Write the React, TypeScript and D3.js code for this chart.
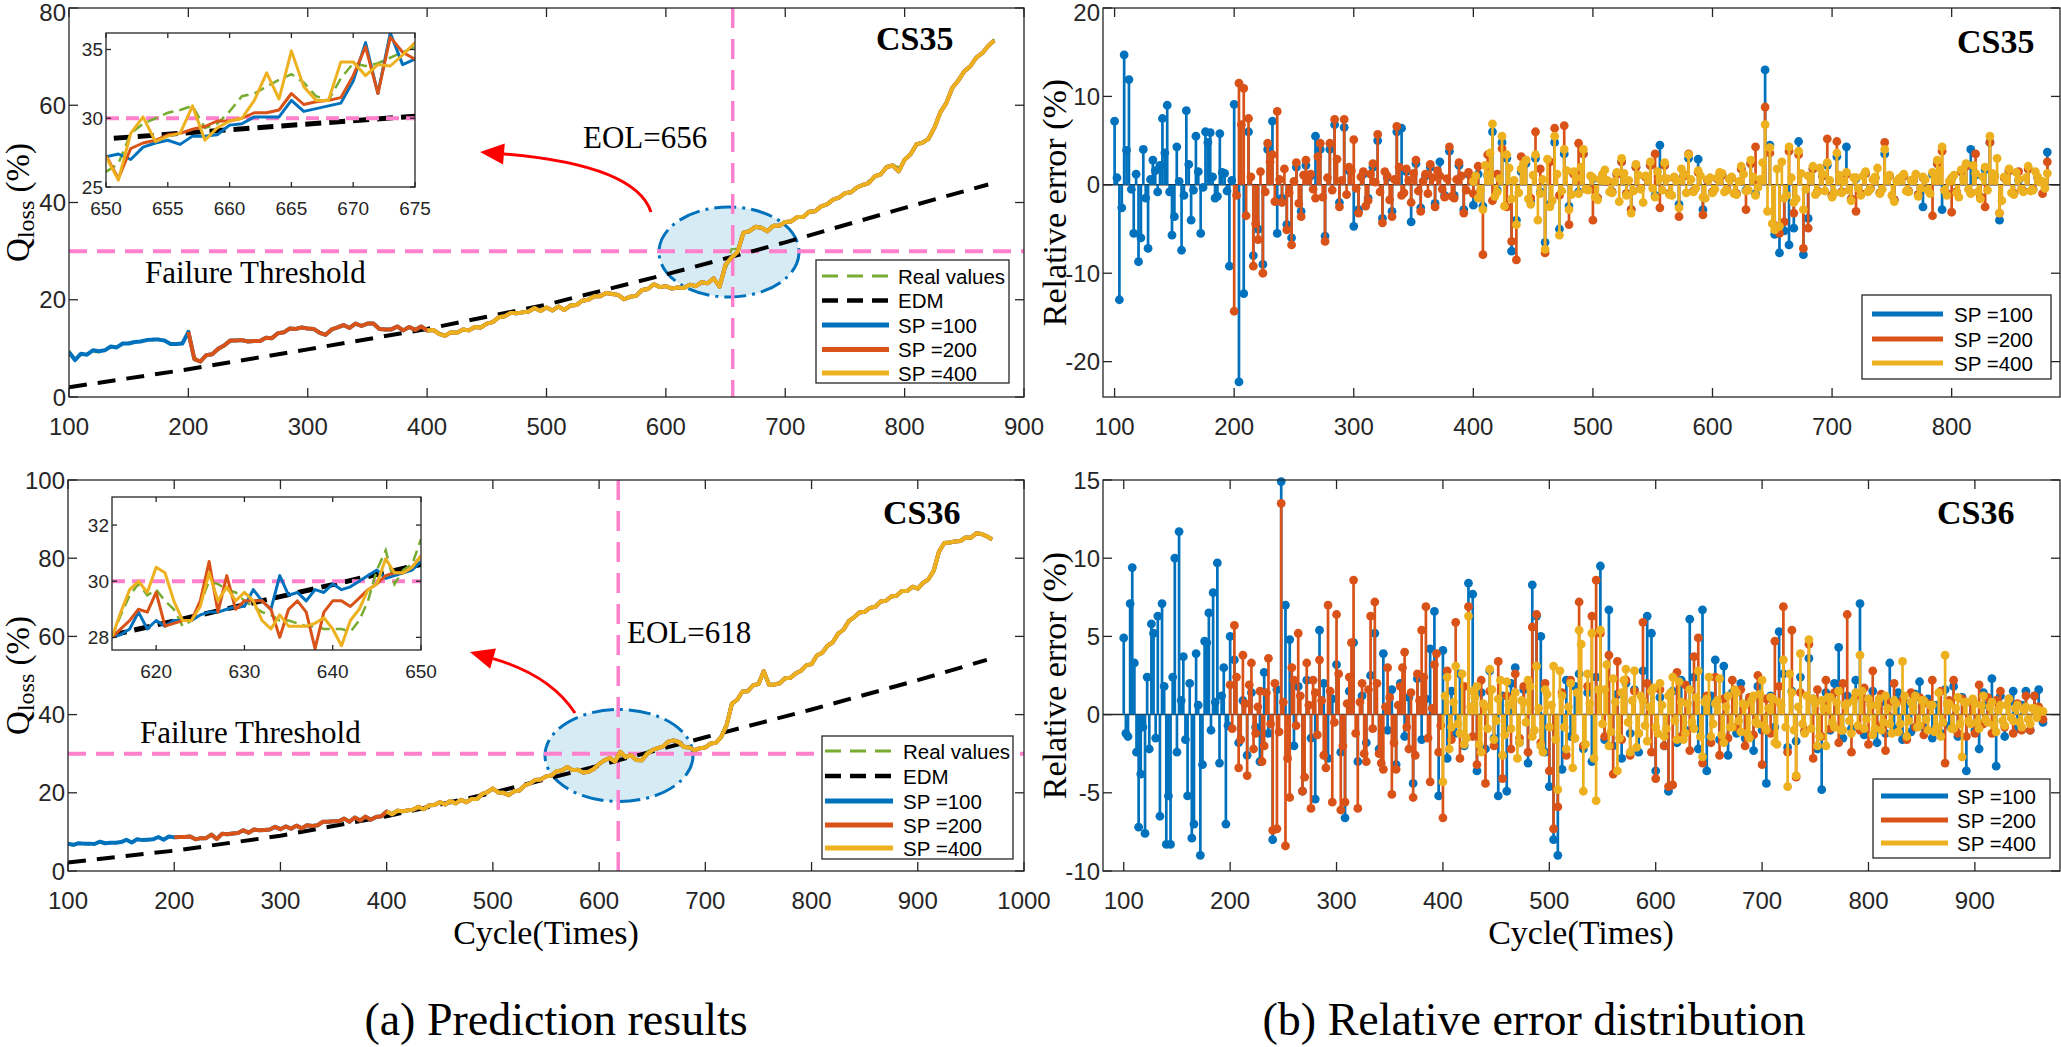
import * as d3 from 'd3';

const BLUE = '#0072bd';
const ORANGE = '#d95319';
const YELLOW = '#edb120';
const GREEN = '#77ac30';
const PINK = '#ff80cc';
const AXIS = '#262626';
const SERIF = '"Liberation Serif", "Times New Roman", Times, serif';
const SANS = '"Liberation Sans", Arial, Helvetica, sans-serif';

// Q_loss (%) curves, one value every 5 cycles starting at cycle 100
const Q_START = 100;
const Q_STEP = 5;

const cs35Real = [
  9.6, 7.9, 8.6, 8.9, 9.3, 9.2, 9.8, 10.1, 10.4, 10.8,
  11.2, 11.0, 11.5, 11.9, 11.6, 12.0, 11.4, 11.1, 10.7, 11.3,
  12.8, 8.2, 7.6, 8.4, 9.0, 9.6, 10.8, 11.4, 11.8, 11.5,
  11.6, 11.3, 11.7, 12.0, 12.3, 12.9, 13.5, 13.9, 14.2, 14.1,
  14.3, 13.8, 13.4, 13.0, 13.6, 14.5, 14.6, 14.4, 14.9, 14.8,
  15.3, 14.9, 14.2, 13.7, 14.1, 14.3, 13.9, 14.2, 14.0, 14.3,
  13.9, 13.6, 13.2, 12.8, 13.1, 13.4, 13.7, 13.9, 14.2, 14.5,
  14.9, 15.6, 16.2, 16.8, 17.1, 17.4, 17.2, 17.8, 18.1, 17.9,
  18.2, 18.0, 18.4, 18.1, 18.6, 19.1, 19.6, 20.2, 20.5, 20.9,
  21.2, 21.4, 20.8, 20.3, 20.4, 21.0, 21.8, 22.4, 23.0, 22.8,
  22.6, 22.5, 22.3, 22.6, 22.9, 23.0, 23.4, 23.6, 24.2, 23.0,
  26.1, 30.4, 30.5, 33.2, 34.0, 35.2, 34.6, 34.3, 35.0, 35.4,
  35.8, 36.3, 36.8, 37.2, 37.9, 38.4, 39.0, 39.8, 40.4, 41.2,
  41.7, 42.3, 42.9, 43.8, 44.5, 45.2, 46.0, 47.1, 47.8, 47.2,
  48.6, 50.1, 51.8, 52.5, 52.9, 55.6, 58.4, 60.7, 63.4, 65.3,
  66.8, 68.2, 69.6, 70.9, 72.0, 73.6,
];
const cs35Pred = [
  9.2, 7.6, 8.9, 8.7, 9.6, 9.4, 9.6, 10.4, 10.2, 11.0,
  11.0, 11.3, 11.4, 11.7, 11.8, 11.8, 11.6, 10.9, 10.9, 11.0,
  13.4, 7.8, 7.3, 8.6, 8.8, 9.9, 10.6, 11.6, 11.6, 11.7,
  11.4, 11.5, 11.5, 12.2, 12.1, 13.1, 13.3, 14.1, 14.0, 14.3,
  14.1, 14.0, 13.2, 12.8, 13.9, 14.3, 14.8, 14.2, 15.1, 14.6,
  15.1, 15.1, 14.0, 13.9, 13.9, 14.5, 13.7, 14.4, 13.8, 14.5,
  13.7, 13.8, 13.0, 12.6, 13.3, 13.2, 13.9, 13.7, 14.4, 14.3,
  15.1, 15.4, 16.4, 16.6, 17.3, 17.2, 17.4, 17.6, 18.3, 17.7,
  18.4, 17.8, 18.6, 17.9, 18.8, 18.9, 19.8, 20.0, 20.7, 20.7,
  21.4, 21.2, 21.0, 20.1, 20.6, 20.8, 22.0, 22.2, 23.2, 22.6,
  22.8, 22.3, 22.5, 22.4, 23.1, 22.8, 23.6, 23.4, 24.4, 22.7,
  27.2, 28.7, 29.8, 33.8, 34.1, 35.0, 34.8, 34.1, 35.2, 35.2,
  36.0, 36.1, 37.0, 37.0, 38.1, 38.2, 39.2, 39.6, 40.6, 41.0,
  41.9, 42.1, 43.1, 43.6, 44.0, 45.4, 45.8, 47.3, 47.6, 46.4,
  48.8, 49.9, 52.0, 52.3, 53.1, 55.4, 58.6, 60.5, 63.6, 65.1,
  67.0, 68.0, 69.8, 70.7, 72.2, 73.3,
];
const cs36Real = [
  6.8, 6.5, 6.9, 7.2, 6.8, 7.1, 7.3, 6.9, 7.4, 7.0,
  7.6, 7.8, 7.5, 7.9, 8.1, 7.8, 8.3, 8.5, 8.2, 8.6,
  8.8, 8.5, 8.9, 8.6, 8.3, 8.2, 8.6, 9.1, 8.4, 9.3,
  9.6, 9.4, 9.9, 10.2, 10.0, 10.4, 10.6, 10.3, 10.8, 11.1,
  10.9, 11.2, 11.0, 11.4, 11.1, 11.5, 11.3, 11.9, 12.4, 12.8,
  12.5, 12.9, 13.2, 12.8, 13.5, 13.1, 13.7, 13.3, 13.6, 14.2,
  15.0, 14.7, 15.2, 15.5, 15.3, 15.9, 16.2, 16.0, 16.6, 17.1,
  17.4, 17.2, 17.7, 17.5, 18.0, 17.8, 18.2, 18.6, 19.5, 20.4,
  20.9, 20.3, 19.8, 19.6, 20.2, 20.8, 21.7, 22.6, 23.1, 23.6,
  24.0, 24.6, 25.3, 25.9, 26.4, 26.0, 25.7, 25.4, 25.2, 26.3,
  27.2, 28.5, 28.7, 28.0, 29.7, 29.2, 29.3, 28.6, 28.3, 30.4,
  31.5, 31.2, 32.0, 32.9, 33.6, 32.8, 31.9, 31.4, 31.1, 31.2,
  31.8, 32.4, 33.0, 34.0, 37.6, 42.5, 44.1, 45.6, 46.3, 47.2,
  48.0, 50.8, 47.9, 47.4, 48.3, 49.0, 49.6, 50.2, 51.4, 52.3,
  53.1, 54.8, 56.0, 57.3, 58.7, 60.4, 61.9, 63.6, 65.1, 65.8,
  66.5, 67.0, 67.8, 68.6, 69.3, 69.9, 70.6, 71.3, 71.8, 72.4,
  72.6, 73.4, 74.8, 76.5, 82.0, 83.6, 84.2, 84.0, 84.6, 85.0,
  85.4, 86.1, 86.4, 85.8, 85.0,
];
const cs36Pred = [
  7.0, 6.7, 7.1, 7.0, 7.0, 6.9, 7.5, 7.1, 7.2, 7.2,
  7.4, 8.0, 7.3, 8.1, 7.9, 8.0, 8.1, 8.7, 8.0, 8.8,
  8.6, 8.7, 8.7, 8.8, 8.1, 8.4, 8.4, 9.3, 8.2, 9.5,
  9.4, 9.6, 9.7, 10.4, 9.8, 10.6, 10.4, 10.5, 10.6, 11.3,
  10.7, 11.4, 10.8, 11.6, 10.9, 11.7, 11.5, 11.7, 12.6, 12.6,
  12.7, 12.7, 13.4, 12.6, 13.7, 12.9, 13.9, 13.1, 13.8, 14.0,
  15.2, 14.5, 15.4, 15.3, 15.5, 15.7, 16.4, 15.8, 16.8, 16.9,
  17.6, 17.0, 17.9, 17.3, 18.2, 17.6, 18.4, 18.4, 19.7, 20.2,
  21.1, 20.1, 20.0, 19.4, 20.4, 20.6, 21.9, 22.4, 23.3, 23.4,
  24.2, 24.4, 25.5, 25.7, 26.6, 25.8, 25.9, 25.2, 25.4, 26.1,
  27.4, 28.3, 28.9, 28.0, 30.5, 29.1, 29.6, 28.4, 28.3, 29.9,
  30.9, 31.4, 31.8, 33.1, 33.4, 33.0, 31.7, 31.6, 30.9, 31.4,
  31.6, 32.6, 32.8, 34.3, 37.3, 42.8, 43.8, 45.9, 46.0, 47.5,
  47.8, 51.1, 47.6, 47.7, 48.0, 49.3, 49.4, 50.5, 51.2, 52.6,
  52.9, 55.1, 55.8, 57.6, 58.5, 60.7, 61.7, 63.9, 64.9, 66.1,
  66.3, 67.3, 67.6, 68.9, 69.1, 70.2, 70.4, 71.6, 71.6, 72.7,
  72.2, 73.7, 74.6, 76.8, 81.7, 83.9, 84.0, 84.3, 84.4, 85.3,
  85.2, 86.4, 86.2, 85.6, 84.8,
];

// empirical degradation model knots
const cs35EdmCycles = [100, 200, 300, 400, 500, 600, 700, 800, 870];
const cs35Edm = [2.0, 5.7, 9.8, 14.0, 19.0, 25.2, 31.8, 38.9, 43.7];
const cs36EdmCycles = [100, 200, 300, 400, 500, 600, 700, 800, 900, 965];
const cs36Edm = [2.2, 5.2, 9.0, 14.0, 20.0, 27.0, 34.2, 41.3, 48.8, 54.0];

// zoomed-in windows (one value per cycle)
const cs35ZoomCycles = d3.range(650, 676);
const cs35ZoomReal = [26.1, 26.7, 28.9, 29.6, 30.0, 30.4, 30.6, 30.9, 29.3, 29.6, 30.5, 31.6, 31.8, 32.3, 32.8, 33.2, 32.6, 31.6, 31.3, 32.9, 34.0, 33.8, 34.0, 34.4, 34.8, 35.2];
const cs35ZoomSp100 = [27.2, 27.4, 27.0, 27.9, 28.2, 28.4, 28.1, 28.7, 28.7, 28.8, 29.5, 29.6, 30.1, 30.1, 30.1, 31.3, 30.5, 30.7, 30.9, 31.1, 32.7, 35.5, 31.8, 36.2, 33.9, 34.3];
const cs35ZoomSp200 = [27.3, 25.6, 27.8, 28.2, 28.4, 28.8, 28.9, 29.2, 29.4, 29.8, 29.8, 30.0, 30.4, 30.4, 30.6, 31.8, 31.0, 31.2, 31.3, 31.5, 33.1, 35.2, 31.8, 35.9, 34.8, 34.3];
const cs35ZoomSp400 = [27.2, 25.5, 28.9, 30.1, 28.3, 28.7, 28.9, 30.9, 28.4, 29.3, 29.8, 30.0, 31.3, 33.3, 31.4, 34.9, 32.3, 31.3, 31.3, 34.1, 34.1, 33.1, 33.9, 33.8, 34.6, 35.5];

const cs36ZoomCycles = d3.range(615, 651);
const cs36ZoomReal = [28.0, 28.8, 29.5, 29.9, 29.5, 29.7, 29.3, 29.0, 28.4, 28.6, 29.2, 30.0, 29.9, 29.7, 29.6, 29.3, 29.1, 28.9, 28.8, 28.6, 28.6, 28.5, 28.4, 28.4, 28.3, 28.3, 28.3, 28.2, 28.6, 29.3, 30.4, 31.1, 29.9, 30.4, 30.6, 31.5];
const cs36ZoomSp100 = [28.0, 28.1, 28.3, 28.9, 28.3, 28.6, 28.4, 28.6, 28.6, 28.6, 28.8, 28.9, 28.9, 29.0, 29.1, 29.1, 29.7, 29.3, 29.0, 30.2, 29.5, 29.6, 29.3, 29.7, 29.6, 29.9, 29.7, 29.8, 30.0, 30.2, 30.4, 30.1, 30.2, 30.3, 30.4, 30.7];
const cs36ZoomSp200 = [28.0, 28.3, 28.6, 29.0, 28.9, 29.6, 28.4, 28.5, 28.6, 28.6, 29.3, 30.7, 28.9, 30.2, 29.0, 29.3, 29.3, 29.3, 29.0, 28.0, 29.0, 29.3, 28.9, 27.6, 28.9, 29.3, 29.3, 29.1, 29.4, 29.7, 29.9, 30.2, 30.3, 30.3, 30.5, 30.9];
const cs36ZoomSp400 = [28.0, 28.9, 29.7, 30.0, 29.6, 30.5, 30.3, 29.3, 28.6, 28.6, 29.1, 30.3, 29.3, 29.8, 29.3, 29.6, 29.3, 28.6, 28.3, 28.8, 28.4, 28.4, 28.4, 28.5, 28.7, 28.3, 27.7, 28.6, 29.0, 29.7, 29.9, 30.8, 30.3, 30.3, 30.5, 30.9];

// relative error (%), one stem every 4 cycles; the "Mid" lists sit 2 cycles after each stem
const ERR_STEP = 4;
const spLabels = ['SP =100', 'SP =200', 'SP =400'];
const spColors = [BLUE, ORANGE, YELLOW];
const spStarts = [100, 200, 400];

const cs35Err100 = [
  7.2, -13.0, 14.7, 11.9, -5.5, -8.7, 4.0, -7.2, 2.8, -0.8,
  7.5, 9.0, -5.7, 4.3, -7.4, 8.4, -4.0, 5.5, -5.5, 6.0,
  5.9, -1.5, 5.8, 1.3, -9.2, 9.1, -22.3, -12.3, 6.0, -8.0,
  -5.0, -9.0, 4.0, 7.2, -5.5, -1.5, -4.5, -6.0, 2.0, -3.0,
  2.2, 1.0, 5.5, 4.0, -5.8, 4.0, 6.8, -2.0, 6.5, 1.6,
  -4.7, -2.8, 1.2, -1.5, 2.0, 5.0, -3.8, 0.8, -3.0, 6.0,
  6.4, 1.5, -4.2, 2.4, -2.6, 1.0, 2.0, -2.1, 2.6, -1.2,
  3.8, -1.2, 2.2, -2.8, 1.2, -2.3, 1.2, -2.4, 1.0, 6.0,
  -0.6, 4.8, 3.0, -7.5, -4.0, 1.5, 2.4, -1.9, 3.0, -0.8,
  -6.5, -2.2, 4.8, -5.0, 3.5, -2.4, 1.3, -0.8, 3.5, -0.5,
  0.7, -1.5, 1.0, 0.4, -0.8, 1.2, 2.6, -1.0, -2.8, 2.0,
  -0.4, 0.9, 2.2, -1.2, 4.5, 2.2, -1.0, 0.8, -2.2, 1.0,
  3.0, -0.7, 2.9, -2.8, 0.5, -0.8, 0.7, 1.1, -0.5, 0.8,
  -1.0, 1.8, -0.6, 2.4, -1.0, 0.5, 13.0, 4.5, -5.6, -7.7,
  -5.2, -6.8, -4.9, 4.9, -7.9, -3.8, 1.8, -0.7, 1.0, 2.2,
  -1.2, 3.2, -0.8, 4.3, -1.6, 0.7, -1.0, 1.3, -0.4, 0.8,
  -0.9, 3.5, 1.0, -1.7, 0.6, 1.0, -0.7, 0.5, -1.1, -2.5,
  -0.5, 1.2, 2.4, -2.8, -1.0, 0.7, -0.8, 1.5, 2.1, 4.0,
  1.1, -1.4, 1.7, 4.8, 1.0, -4.0, 0.8, 1.6, -1.0, 0.5,
  -0.7, 1.8, -0.5, 0.8, 0.3, 3.7,
];
const cs35Err100Mid = [
  0.8, -2.6, 3.9, -0.5, 1.2, -6.0, -1.5, 0.6, 1.6, 2.2,
  3.6, -0.8, -3.6, 0.4, -1.2, 2.3, -0.6, 1.5, -0.3, 4.8,
  0.9, -1.3, 1.4, -0.7, 0.5,
];
const cs35Err200 = [
  -14.3, 11.5, 10.9, 7.5, -9.2, -6.2, -10.0, 4.7, 3.4, 8.3,
  -2.0, -5.1, -6.8, 2.5, -3.6, 2.8, 1.2, -1.5, 4.7, -6.4,
  4.7, 7.4, -2.5, 7.4, 2.0, 5.1, -3.2, 1.5, -1.8, 2.4,
  5.7, -4.3, 1.0, -3.6, 6.6, -1.2, 1.8, -2.0, 2.8, -3.0,
  1.2, 2.3, -2.5, 1.0, -1.4, 4.3, -1.5, 2.5, -3.2, 1.4,
  -1.0, 2.1, -7.9, 3.4, -1.8, 1.2, 4.1, -2.5, -6.4, -8.5,
  3.2, 2.8, -1.5, 6.0, 1.8, -7.7, 2.6, 6.4, -1.2, 6.7,
  -4.5, 1.2, 4.7, 3.5, -0.5, -4.0, -1.5, 1.0, 0.4, -0.8,
  1.2, 2.6, -1.0, -2.8, 2.0, -0.4, 0.9, 2.2, 3.5, -2.6,
  2.2, -1.0, 0.8, -3.6, 1.0, 3.5, -0.7, 1.4, -3.4, 0.5,
  -0.8, 0.7, 1.1, -0.5, 0.8, -1.0, 1.8, -2.8, 2.4, 4.3,
  0.5, 8.8, 3.6, -4.6, -5.5, -4.2, 3.8, -3.2, 3.4, -7.2,
  -4.9, 1.8, -0.7, 1.0, 5.2, -1.2, 4.9, -0.8, 1.2, -1.6,
  -3.0, -1.0, 1.3, -0.4, 0.8, -0.9, 4.8, 1.0, -1.7, 0.6,
  1.0, -0.7, 0.5, -1.1, 0.8, -0.5, -3.5, 2.4, 3.8, -1.0,
  -3.1, -0.8, 1.5, 2.1, -0.9, 3.5, -1.4, -2.5, 4.8, 1.0,
  -3.2, 0.8, 1.6, -1.0, 1.5, -0.7, 1.8, -0.5, 0.8, -1.0,
  2.6,
];
const cs35Err200Mid = [
  -1.2, 6.8, -3.5, 0.9, -4.4, 1.5, -0.8, 2.6, -1.9, 0.6,
  1.8, -0.9, 0.4, -2.1, 1.1, 0.7, -0.5, 3.2, -1.4, 0.8,
  -0.6, 2.9, 0.5, -1.1, 1.6, -0.4, 0.9, -2.4, 1.2, 0.3,
  -0.8, 1.5, -1.7, 0.6, 2.0, -0.9, 0.5, 1.3, -0.7, 0.4,
  -1.0, 0.8, 1.6, -0.5, 0.7, -1.3, 0.6, 1.0, -0.6, 0.9,
];
const cs35Err400 = [
  0.4, -1.5, -2.8, 1.2, 6.9, -0.8, 5.5, 3.4, -1.6, -4.5,
  1.8, 2.8, -2.2, 3.4, -1.0, -7.3, -2.5, 5.5, -5.7, 4.0,
  -2.8, 1.5, -1.0, 4.0, -0.6, 0.8, -1.7, 1.2, 0.5, -0.9,
  1.4, 3.0, -1.2, -3.2, 2.3, -0.5, 1.0, 2.6, -1.4, 0.7,
  2.5, -1.1, 0.9, -2.6, 1.2, 3.4, -0.8, 1.6, -1.4, 0.6,
  -0.9, 0.8, 1.3, -0.6, 0.9, -1.1, 2.1, -0.7, 2.8, -1.2,
  0.6, 6.8, 4.2, -5.1, -4.7, -1.5, 4.3, -2.0, 3.8, -2.8,
  1.0, 2.1, -0.8, 1.2, 2.5, -1.4, 3.6, -0.9, 1.4, -1.8,
  0.8, -1.2, 1.5, -0.5, 0.9, -1.0, 4.0, 1.1, -1.9, 0.7,
  1.2, -0.8, 0.6, -1.3, 0.9, -0.6, 1.4, 2.8, 4.3, -1.2,
  0.8, -0.9, 1.7, 2.4, -1.0, 1.3, -1.6, 2.0, 5.5, 1.1,
  -3.2, 0.9, 1.8, -1.1, 0.6, -0.8, 2.1, -0.6, 0.9, 0.4,
  1.3,
];
const cs35Err400Mid = [
  1.0, -0.6, 2.2, 3.6, -1.3, 0.7, -2.4, 1.9, 0.5, -0.9,
  2.4, -1.6, 1.1, -4.0, 0.6, 2.9, -1.8, 1.2, -0.7, 1.6,
  -1.1, 0.8, 2.0, -0.5, 1.0, -1.4, 0.6, 1.7, -0.8, 0.4,
  -1.9, 1.3, 0.5, -0.7, 1.1, -2.0, 0.9, -0.4, 1.5, -0.6,
  0.7, -1.2, 0.5, 1.8, -0.9, 0.6, -0.4, 1.0, -1.5, 0.8,
  -0.5, 1.4, -0.8, 0.6, -1.0, 0.4, 1.2, -0.6, 0.9, -0.3,
  2.5, -3.0, -4.4, 1.8, 2.6, -1.2, 0.8, -1.6, 1.3, -0.5,
  0.9, -1.1, 1.9, -0.7, 0.5, -0.9, 1.1, 0.4, -0.6, 0.8,
  -0.4, 1.0, -0.8, 0.6, 1.9, -0.5, 0.7, -1.2, 0.4, 0.9,
  -0.7, 0.5, 1.2, -0.4, 0.6, -1.0, 0.8, 1.6, -0.6, 0.4,
  1.1, -1.4, 0.7, -0.5, 2.2, -0.8, 0.9, -0.6, 1.3, 3.0,
  -1.8, 0.6, -0.9, 1.4, -0.5, 0.8, -0.7, 1.5, 0.3, -0.4,
];

const cs36Err100 = [
  4.9, -1.4, 9.4, -2.4, -3.8, -7.6, -2.2, 5.2, 6.3, 7.1,
  -8.3, -8.3, 10.0, 11.7, 3.7, -5.2, -7.9, 3.9, -9.0, 4.7,
  6.5, 7.8, 9.7, 1.2, -7.0, 5.0, 3.5, -1.8, 0.9, -2.6,
  1.4, -0.8, -3.0, 2.7, -1.2, -8.0, 1.6, 14.9, 7.0, 4.8,
  -2.0, 1.8, -4.9, 2.2, -1.5, -5.4, 5.4, 2.0, -2.8, 1.0,
  3.2, -2.4, -6.6, 1.5, 4.6, -3.0, 1.2, -1.8, 2.5, 5.2,
  -2.2, 3.9, -1.0, 1.6, -3.2, 2.0, -1.4, 1.1, -4.4, 2.3,
  -1.6, 1.0, 4.2, 6.6, -5.2, 4.1, -2.8, 1.5, -1.2, 2.6,
  -2.0, 8.4, 7.7, -3.6, 1.4, -2.2, 2.8, -1.5, -5.2, 1.2,
  -4.9, 2.0, 3.0, -1.8, 1.6, -3.1, 8.3, 6.3, 5.0, -2.4,
  -4.6, -8.0, -9.0, -3.5, 2.2, -1.4, 1.8, 2.6, -2.2, 1.4,
  -3.0, 2.4, 9.5, -1.6, 6.7, -2.0, 1.3, -2.8, 2.0, -1.2,
  1.6, -2.4, 2.8, 6.3, 5.2, -3.6, 1.1, -2.0, -4.9, 1.5,
  -1.8, 2.2, -1.0, 6.1, 2.4, -2.2, 6.7, -3.6, 1.2, 3.5,
  -1.6, 3.1, -2.6, 1.4, -1.2, 2.0, -1.5, 0.9, -2.3, 1.8,
  -1.0, -4.4, 1.2, -0.8, 5.3, 2.6, -2.1, 1.5, -1.7, 2.4,
  -1.1, 3.6, 1.0, -2.2, -4.8, 1.4, -1.0, 2.0, 4.3, -1.5,
  1.2, -0.9, 2.2, 7.1, -1.3, 1.0, 1.5, -1.8, 0.8, -1.2,
  3.3, -0.9, 1.4, -1.6, 0.7, -1.1, 1.3, 2.1, -0.8, 1.0,
  -1.5, 0.6, -1.2, 1.6, -0.7, 1.8, -1.4, 1.1, -3.6, 0.8,
  -1.0, -2.2, 1.4, 0.6, 2.3, -3.3, 1.2, -1.4, 0.8, 1.5,
  -0.9, 0.6, 1.5, -1.0, 1.2, 1.6, -0.5,
];
const cs36Err100Mid = [
  -1.2, 7.1, 3.3, -7.2, -0.8, 2.4, 5.8, -1.5, -6.5, 1.8,
  -5.2, 2.4, -2.4, 0.9, -1.6, 2.0, -7.0, 0.6, -3.2, 4.6,
  -1.0, 0.8, -3.1, 3.0, -0.7,
];
const cs36Err200 = [
  1.9, 5.7, -3.4, 3.8, -3.9, 3.3, -1.2, 1.5, -2.0, 3.6,
  -7.4, -7.3, 13.5, -8.4, -5.3, 2.2, 5.2, -4.9, 3.3, -6.0,
  1.4, 3.5, -2.6, 7.0, -5.6, 6.4, -6.1, -5.6, 2.4, 8.6,
  -6.0, 2.0, -3.0, 6.3, 7.2, -2.5, -3.5, 3.0, -5.1, -3.5,
  1.8, 4.0, -2.2, -5.3, 2.6, 5.4, 6.9, -4.3, 3.2, -2.4,
  -6.6, 2.8, -1.6, 5.9, -2.8, 1.8, 6.9, -1.4, -3.2, 2.2,
  -4.4, 1.5, -2.0, 3.4, -4.1, 1.2, -2.2, 2.6, -1.5, 1.8,
  -2.4, 5.6, 6.4, -1.8, 2.0, -3.6, -7.3, -5.9, 1.4, -2.6,
  2.2, -1.5, 7.2, -2.0, 1.8, 6.3, 8.6, 5.2, -1.4, 3.8,
  -3.8, 3.4, -1.6, 2.2, -2.6, 1.5, -1.2, 5.9, 2.0, -2.4,
  -4.1, 1.6, -2.0, -4.6, -4.5, 2.7, -1.4, 1.9, -2.3, 3.7,
  4.9, -3.1, 1.2, -1.8, 2.4, -2.6, 1.0, -1.5, 2.2, -0.8,
  1.6, -2.0, 1.1, -1.3, 2.5, -3.2, 1.0, -1.2, 4.7, 1.8,
  6.9, -2.4, 5.4, -4.0, 1.4, -1.0, 4.5, -2.8, 1.6, -1.4,
  2.2, -0.9, 1.4, -1.8, 2.0, 6.4, -2.4, 1.2, -1.0, 1.7,
  -1.9, 2.8, -0.7, 1.3, -2.3, 0.8, 2.0, -1.1, 0.9, -1.6,
  1.4, -0.8, 1.1, -1.3, 0.7, 2.2, -1.0, 1.5, -3.1, 0.9,
  2.2, -1.2, 1.0, -1.4, 0.8, -1.2, 1.9, -0.6, 1.1, -1.2,
  0.9, 1.5, -0.8, 1.0, -1.2, 0.7, -1.0, 1.2, -1.0, 1.2,
  0.5, -0.3,
];
const cs36Err200Mid = [
  -0.9, 2.4, -1.6, 0.7, 1.9, -2.2, 0.5, -3.0, 1.4, -0.6,
  2.0, -1.1, 0.8, -2.8, 3.0, -0.7, 1.2, -4.0, 0.6, 2.2,
  -1.3, 0.9, -3.4, 1.5, -0.5, 2.6, -2.0, 0.7, 4.6, -1.2,
  0.8, -2.5, 1.6, -0.9, 2.0, -3.1, 0.5, 1.1, -1.8, 0.6,
  3.0, -0.8, 1.4, -2.6, 0.9, 2.4, -1.5, 0.4, 3.9, -0.7,
];
const cs36Err400 = [
  -4.3, 2.4, -0.8, 3.1, -1.2, -1.9, 6.3, 1.5, 1.8, -2.4,
  0.5, 2.9, -1.6, 1.0, -2.6, 2.1, -0.9, 1.4, -1.8, 0.8,
  2.2, -1.4, 3.1, -2.0, 1.6, -0.8, 3.1, -4.8, 1.2, -2.2,
  2.0, -1.5, 5.4, -4.9, 2.6, 5.2, -5.5, 5.4, 1.6, -2.0,
  2.3, -3.6, 1.4, 2.9, -2.4, 2.8, -1.2, 0.9, -1.7, 1.5,
  -0.8, 2.0, -1.4, 1.2, 2.4, -1.6, 0.8, -1.2, 1.6, -0.9,
  2.8, -2.7, 1.0, -1.4, 0.7, 2.3, -1.8, 1.2, -0.8, 1.4,
  -1.1, 0.6, -1.5, 1.2, -0.6, 2.2, -1.0, 1.1, -1.8, 0.8,
  3.5, -4.6, 1.4, -3.9, 3.9, -1.2, 4.8, 1.0, -2.0, 0.9,
  -2.0, 1.1, -0.8, 1.5, -1.0, 0.7, -1.2, 1.4, 3.8, -0.9,
  1.0, -1.3, 0.6, -1.0, 1.2, -0.6, 0.9, -1.1, 3.4, -1.4,
  0.8, 1.2, -0.7, 0.9, -1.0, 0.6, -0.8, -1.4, 3.8, 0.7,
  -0.9, 1.1, -2.7, 0.8, -0.6, 0.7, -0.9, 1.2, -0.5, 0.8,
  -1.1, 0.6, -0.7, 1.0, -0.4, 0.6, -0.8, 0.5, -0.6, 0.4,
  0.3, 0.2,
];
const cs36Err400Mid = [
  1.2, -2.2, 0.8, -0.6, 2.6, -1.5, 0.5, 1.1, -1.9, 0.7,
  -0.9, 1.6, -0.4, 2.2, -1.3, 0.6, 1.0, -2.8, 0.9, -0.5,
  1.8, -1.0, 0.4, -2.4, 1.3, 0.6, -1.6, 2.8, -0.8, 0.5,
  -3.4, 1.4, 4.5, -1.9, 0.7, -2.8, 1.6, -0.6, 3.2, -1.1,
  0.8, -1.5, 2.2, -0.5, 0.9, -2.1, 1.2, -0.7, 0.5, 1.7,
  -1.2, 0.6, -0.9, 1.4, -0.4, 2.1, -1.6, 0.7, -0.5, 1.1,
  -1.4, 0.8, 2.4, -0.6, 0.9, -1.3, 0.5, -0.8, 1.6, -0.4,
  0.7, -1.2, 0.9, -0.5, 1.3, -0.7, 0.4, 1.0, -1.9, 0.6,
  -0.8, 2.6, -1.0, 0.5, -0.6, 1.2, -0.9, 0.7, -1.4, 0.4,
  1.1, -0.5, 0.8, -1.0, 0.6, -0.4, 0.9, -0.7, 1.5, -0.3,
  0.6, -0.9, 1.0, -0.5, 0.4, -1.2, 0.7, -0.6, 1.2, -0.4,
  0.5, -0.8, 0.9, -0.3, 0.6, -1.1, 1.4, -0.5, 0.7, -0.9,
  0.4, -0.6, 0.8, -0.4, 1.0, -0.5, 0.6, -0.3, 0.5, -0.7,
  0.3, -0.4, 0.6, -0.2, 0.4, -0.5, 0.3, -0.3, 0.4, -0.2,
  0.2,
];

type Lin = d3.ScaleLinear<number, number>;
type Pt = [number, number];
type StemSeries = { start: number; values: number[]; color: string };

function Frame({ x, y, xTicks, yTicks, tick = 9, font = 24, xDy = 37.5 }: {
  x: Lin; y: Lin; xTicks: number[]; yTicks: number[]; tick?: number; font?: number; xDy?: number;
}) {
  const [l, r] = x.range();
  const [b, t] = y.range();
  return (
    <g stroke={AXIS} strokeWidth={1.3}>
      <rect x={l} y={t} width={r - l} height={b - t} fill="none" />
      {xTicks.map(v => (
        <g key={'x' + v}>
          <line x1={x(v)} x2={x(v)} y1={b} y2={b - tick} />
          <line x1={x(v)} x2={x(v)} y1={t} y2={t + tick} />
          <text x={x(v)} y={b + xDy} stroke="none" fill={AXIS} fontFamily={SANS} fontSize={font} textAnchor="middle">{v}</text>
        </g>
      ))}
      {yTicks.map(v => (
        <g key={'y' + v}>
          <line x1={l} x2={l + tick} y1={y(v)} y2={y(v)} />
          <line x1={r} x2={r - tick} y1={y(v)} y2={y(v)} />
          <text x={l - 3} y={Math.max(y(v), 12)} stroke="none" fill={AXIS} fontFamily={SANS} fontSize={font} textAnchor="end" dominantBaseline="central">{v}</text>
        </g>
      ))}
    </g>
  );
}

type Row = { label: string; color: string; width: number; dash?: string };

function Legend({ box, rows, rowY, lineX, textX }: {
  box: number[]; rows: Row[]; rowY: number[]; lineX: number[]; textX: number;
}) {
  return (
    <g>
      <rect x={box[0]} y={box[1]} width={box[2] - box[0]} height={box[3] - box[1]} fill="#fff" stroke={AXIS} strokeWidth={1.3} />
      {rows.map((row, i) => (
        <g key={row.label}>
          <line x1={lineX[0]} x2={lineX[1]} y1={rowY[i]} y2={rowY[i]} stroke={row.color} strokeWidth={row.width} strokeDasharray={row.dash} />
          <text x={textX} y={rowY[i]} dominantBaseline="central" fontFamily={SANS} fontSize={20.5} fill="#000">{row.label}</text>
        </g>
      ))}
    </g>
  );
}

const spRows: Row[] = spLabels.map((label, k) => ({ label, color: spColors[k], width: 5 }));
const qRows: Row[] = [
  { label: 'Real values', color: GREEN, width: 3, dash: '16 9' },
  { label: 'EDM', color: '#000', width: 4.5, dash: '16 9' },
  ...spRows,
];

function CurvedArrow({ from, ctrl, tip }: { from: Pt; ctrl: Pt; tip: Pt }) {
  const dx = tip[0] - ctrl[0];
  const dy = tip[1] - ctrl[1];
  const len = Math.hypot(dx, dy);
  const ux = dx / len, uy = dy / len;
  const base: Pt = [tip[0] - ux * 24, tip[1] - uy * 24];
  const p1: Pt = [base[0] - uy * 10.5, base[1] + ux * 10.5];
  const p2: Pt = [base[0] + uy * 10.5, base[1] - ux * 10.5];
  return (
    <g>
      <path d={`M${from[0]},${from[1]} Q${ctrl[0]},${ctrl[1]} ${base[0]},${base[1]}`} fill="none" stroke="#ff0000" strokeWidth={3} />
      <polygon points={`${tip.join(',')} ${p1.join(',')} ${p2.join(',')}`} fill="#ff0000" />
    </g>
  );
}

function Inset({ id, box, xDomain, yDomain, xTicks, yTicks, cycles, real, sp, edmCycles, edm }: {
  id: string; box: number[]; xDomain: number[]; yDomain: number[]; xTicks: number[]; yTicks: number[];
  cycles: number[]; real: number[]; sp: number[][]; edmCycles: number[]; edm: number[];
}) {
  const x = d3.scaleLinear().domain(xDomain).range([box[0], box[2]]);
  const y = d3.scaleLinear().domain(yDomain).range([box[3], box[1]]);
  const line = d3.line<Pt>().x(d => x(d[0])).y(d => y(d[1]));
  const pts = (vals: number[]) => cycles.map((c, i) => [c, vals[i]] as Pt);
  const edmPts = edmCycles.map((c, i) => [c, edm[i]] as Pt);
  return (
    <g>
      <defs>
        <clipPath id={id}><rect x={box[0]} y={box[1]} width={box[2] - box[0]} height={box[3] - box[1]} /></clipPath>
      </defs>
      <rect x={box[0]} y={box[1]} width={box[2] - box[0]} height={box[3] - box[1]} fill="#fff" />
      <g clipPath={`url(#${id})`} fill="none">
        <path d={line(edmPts) ?? ''} stroke="#000" strokeWidth={5} strokeDasharray="16 8" />
        <line x1={box[0]} x2={box[2]} y1={y(30)} y2={y(30)} stroke={PINK} strokeWidth={4} strokeDasharray="13 7" />
        <path d={line(pts(real)) ?? ''} stroke={GREEN} strokeWidth={2.5} strokeDasharray="11 6" />
        {sp.map((vals, k) => (
          <path key={k} d={line(pts(vals)) ?? ''} stroke={spColors[k]} strokeWidth={3} strokeLinejoin="round" />
        ))}
      </g>
      <Frame x={x} y={y} xTicks={xTicks} yTicks={yTicks} tick={5} font={19} xDy={28} />
    </g>
  );
}

function QPanel({ id, x, y, xTicks, yTicks, real, pred, edmCycles, edm, eol, ell, legend, cs, eolPos, ftPos }: {
  id: string; x: Lin; y: Lin; xTicks: number[]; yTicks: number[]; real: number[]; pred: number[];
  edmCycles: number[]; edm: number[]; eol: number; ell: number[];
  legend: { box: number[]; rowY: number[]; lineX: number[]; textX: number };
  cs: { label: string; x: number; y: number }; eolPos: Pt; ftPos: Pt;
}) {
  const [l, r] = x.range();
  const [b, t] = y.range();
  const line = d3.line<Pt>().x(d => x(d[0])).y(d => y(d[1]));
  const realPts = real.map((v, i) => [Q_START + i * Q_STEP, v] as Pt);
  const predPts = pred.map((v, i) => [Q_START + i * Q_STEP, v] as Pt);
  const edmPts = edmCycles.map((c, i) => [c, edm[i]] as Pt);
  const midY = (t + b) / 2;
  return (
    <g>
      <defs>
        <clipPath id={id}><rect x={l} y={t} width={r - l} height={b - t} /></clipPath>
      </defs>
      <g clipPath={`url(#${id})`} fill="none">
        <ellipse cx={ell[0]} cy={ell[1]} rx={ell[2]} ry={ell[3]} fill="#d6ebf4" stroke={BLUE} strokeWidth={3} strokeDasharray="22 6 3 6" />
        <line x1={l} x2={r} y1={y(30)} y2={y(30)} stroke={PINK} strokeWidth={4} strokeDasharray="18 10" />
        <line x1={x(eol)} x2={x(eol)} y1={t} y2={b} stroke={PINK} strokeWidth={3.5} strokeDasharray="20 11" />
        <path d={line(edmPts) ?? ''} stroke="#000" strokeWidth={4} strokeDasharray="18 11" />
        <path d={line(realPts) ?? ''} stroke={GREEN} strokeWidth={2.2} strokeDasharray="9 6" />
        {spStarts.map((s, k) => (
          <path key={k} d={line(predPts.filter(d => d[0] >= s)) ?? ''} stroke={spColors[k]} strokeWidth={4} strokeLinejoin="round" />
        ))}
      </g>
      <Frame x={x} y={y} xTicks={xTicks} yTicks={yTicks} />
      <text x={ftPos[0]} y={ftPos[1]} fontFamily={SERIF} fontSize={31} fill="#000">Failure Threshold</text>
      <text x={eolPos[0]} y={eolPos[1]} fontFamily={SERIF} fontSize={31} fill="#000">{`EOL=${eol}`}</text>
      <text x={cs.x} y={cs.y} fontFamily={SERIF} fontWeight="bold" fontSize={34} fill="#000">{cs.label}</text>
      <Legend box={legend.box} rows={qRows} rowY={legend.rowY} lineX={legend.lineX} textX={legend.textX} />
      <text transform={`translate(29,${midY}) rotate(-90)`} textAnchor="middle" fontFamily={SERIF} fontSize={33} fill="#000">
        Q<tspan fontSize={24} dy={5}>loss</tspan><tspan dy={-5}> (%)</tspan>
      </text>
    </g>
  );
}

function ErrPanel({ x, y, xTicks, yTicks, series, legend, cs }: {
  x: Lin; y: Lin; xTicks: number[]; yTicks: number[]; series: StemSeries[];
  legend: { box: number[]; rowY: number[]; lineX: number[]; textX: number };
  cs: { label: string; x: number; y: number };
}) {
  const [b, t] = y.range();
  const [l, r] = x.range();
  const y0 = y(0);
  const midY = (t + b) / 2;
  return (
    <g>
      <line x1={l} x2={r} y1={y0} y2={y0} stroke={AXIS} strokeWidth={1.5} />
      {series.map((s, k) => (
        <g key={k} fill={s.color} stroke={s.color}>
          {s.values.map((v, i) => {
            const cx = x(s.start + i * ERR_STEP);
            return <line key={'s' + i} x1={cx} x2={cx} y1={y0} y2={y(v)} strokeWidth={2.7} />;
          })}
          {s.values.map((v, i) => (
            <circle key={'m' + i} cx={x(s.start + i * ERR_STEP)} cy={y(v)} r={4.4} stroke="none" />
          ))}
        </g>
      ))}
      <Frame x={x} y={y} xTicks={xTicks} yTicks={yTicks} />
      <text x={cs.x} y={cs.y} fontFamily={SERIF} fontWeight="bold" fontSize={34} fill="#000">{cs.label}</text>
      <Legend box={legend.box} rows={spRows} rowY={legend.rowY} lineX={legend.lineX} textX={legend.textX} />
      <text transform={`translate(1066,${midY}) rotate(-90)`} textAnchor="middle" fontFamily={SERIF} fontSize={34} fill="#000">
        Relative error (%)
      </text>
    </g>
  );
}

export default function App() {
  const xTL = d3.scaleLinear().domain([100, 900]).range([69, 1024]);
  const yTL = d3.scaleLinear().domain([0, 80]).range([397, 8]);
  const xBL = d3.scaleLinear().domain([100, 1000]).range([68, 1024]);
  const yBL = d3.scaleLinear().domain([0, 100]).range([871, 480]);
  const xTR = d3.scaleLinear().domain([90.3, 890.6]).range([1103, 2060]);
  const yTR = d3.scaleLinear().domain([-24, 20]).range([397, 8]);
  const xBR = d3.scaleLinear().domain([80.5, 980]).range([1103, 2060]);
  const yBR = d3.scaleLinear().domain([-10, 15]).range([871, 480]);

  const cs35Series: StemSeries[] = [
    { start: 100, values: cs35Err100, color: BLUE },
    { start: 102, values: cs35Err100Mid, color: BLUE },
    { start: 200, values: cs35Err200, color: ORANGE },
    { start: 202, values: cs35Err200Mid, color: ORANGE },
    { start: 400, values: cs35Err400, color: YELLOW },
    { start: 402, values: cs35Err400Mid, color: YELLOW },
  ];
  const cs36Series: StemSeries[] = [
    { start: 100, values: cs36Err100, color: BLUE },
    { start: 102, values: cs36Err100Mid, color: BLUE },
    { start: 200, values: cs36Err200, color: ORANGE },
    { start: 202, values: cs36Err200Mid, color: ORANGE },
    { start: 400, values: cs36Err400, color: YELLOW },
    { start: 402, values: cs36Err400Mid, color: YELLOW },
  ];

  return (
    <svg width={2061} height={1047} style={{ position: 'absolute', left: 0, top: 0 }}>
      <rect width={2061} height={1047} fill="#fff" />

      <QPanel
        id="clipTL" x={xTL} y={yTL}
        xTicks={d3.range(100, 901, 100)} yTicks={d3.range(0, 81, 20)}
        real={cs35Real} pred={cs35Pred} edmCycles={cs35EdmCycles} edm={cs35Edm}
        eol={656} ell={[729, 252, 70, 45]}
        legend={{ box: [816, 260, 1009, 383], rowY: [276, 300.5, 325, 349.5, 373], lineX: [822, 889], textX: 898 }}
        cs={{ label: 'CS35', x: 876, y: 50 }} eolPos={[583, 148]} ftPos={[145, 283]}
      />
      <Inset
        id="clipInsetTL" box={[106, 33, 415, 187]} xDomain={[650, 675]} yDomain={[25, 36.2]}
        xTicks={d3.range(650, 676, 5)} yTicks={[25, 30, 35]}
        cycles={cs35ZoomCycles} real={cs35ZoomReal} sp={[cs35ZoomSp100, cs35ZoomSp200, cs35ZoomSp400]}
        edmCycles={cs35EdmCycles} edm={cs35Edm}
      />
      <CurvedArrow from={[651, 212]} ctrl={[635, 165]} tip={[480, 152]} />

      <QPanel
        id="clipBL" x={xBL} y={yBL}
        xTicks={d3.range(100, 1001, 100)} yTicks={d3.range(0, 101, 20)}
        real={cs36Real} pred={cs36Pred} edmCycles={cs36EdmCycles} edm={cs36Edm}
        eol={618} ell={[619, 755.5, 74, 46]}
        legend={{ box: [822, 736, 1013, 859], rowY: [751, 776, 801, 825, 848], lineX: [825, 893], textX: 903 }}
        cs={{ label: 'CS36', x: 883, y: 524 }} eolPos={[627, 643]} ftPos={[140, 743]}
      />
      <Inset
        id="clipInsetBL" box={[112, 497, 421, 650]} xDomain={[615, 650]} yDomain={[27.55, 33]}
        xTicks={[620, 630, 640, 650]} yTicks={[28, 30, 32]}
        cycles={cs36ZoomCycles} real={cs36ZoomReal} sp={[cs36ZoomSp100, cs36ZoomSp200, cs36ZoomSp400]}
        edmCycles={cs36EdmCycles} edm={cs36Edm}
      />
      <CurvedArrow from={[575, 713]} ctrl={[550, 675]} tip={[470, 652]} />

      <ErrPanel
        x={xTR} y={yTR} xTicks={d3.range(100, 801, 100)} yTicks={d3.range(-20, 21, 10)}
        series={cs35Series}
        legend={{ box: [1862, 295, 2051, 379], rowY: [314, 339, 363], lineX: [1872, 1943], textX: 1954 }}
        cs={{ label: 'CS35', x: 1957, y: 53 }}
      />
      <ErrPanel
        x={xBR} y={yBR} xTicks={d3.range(100, 901, 100)} yTicks={d3.range(-10, 16, 5)}
        series={cs36Series}
        legend={{ box: [1873, 779, 2050, 858], rowY: [796, 820, 843], lineX: [1881, 1948], textX: 1957 }}
        cs={{ label: 'CS36', x: 1937, y: 524 }}
      />

      <text x={546} y={944} textAnchor="middle" fontFamily={SERIF} fontSize={34} fill="#000">Cycle(Times)</text>
      <text x={1581} y={944} textAnchor="middle" fontFamily={SERIF} fontSize={34} fill="#000">Cycle(Times)</text>
      <text x={556} y={1035} textAnchor="middle" fontFamily={SERIF} fontSize={46} fill="#000">(a) Prediction results</text>
      <text x={1534} y={1035} textAnchor="middle" fontFamily={SERIF} fontSize={46} fill="#000">(b) Relative error distribution</text>
    </svg>
  );
}
